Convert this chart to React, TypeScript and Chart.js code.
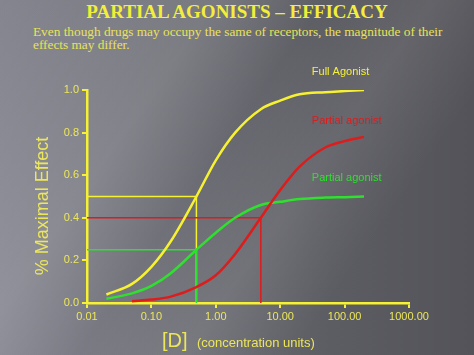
import React, { useEffect, useRef } from "react";
import { Chart, registerables } from "chart.js";
Chart.register(...registerables);

// concentration units [D]
const concentrations = [0.02, 0.05, 0.1, 0.2, 0.5, 1, 2, 5, 10, 20, 50, 100, 200];
const fullAgonist = [0.04, 0.09, 0.17, 0.29, 0.5, 0.67, 0.8, 0.91, 0.95, 0.98, 0.99, 0.995, 1.0];
const partialAgonistRed = [null, 0.008, 0.016, 0.03, 0.075, 0.13, 0.23, 0.4, 0.53, 0.64, 0.73, 0.76, 0.78];
const partialAgonistGreen = [0.02, 0.045, 0.08, 0.14, 0.25, 0.33, 0.4, 0.46, 0.475, 0.488, 0.495, 0.497, 0.5];

// guide lines (x = concentration, y = effect)
const fullGuideX = [0.01, 0.5, 0.5];
const fullGuideY = [0.5, 0.5, 0];
const greenGuideX = [0.01, 0.5, 0.5];
const greenGuideY = [0.25, 0.25, 0];
const redGuideX = [0.01, 5, 5];
const redGuideY = [0.4, 0.4, 0];

const xTickValues = [0.01, 0.1, 1, 10, 100, 1000];
const yTickValues = [0, 0.2, 0.4, 0.6, 0.8, 1.0];

const curveLabels = ["Full Agonist", "Partial agonist", "Partial agonist"];
const curveLabelX = [31, 31, 31];
const curveLabelY = [1.086, 0.855, 0.587];

const YELLOW = "#f6f233";
const RED = "#de1c1c";
const GREEN = "#2fe02f";
const TEXT_YELLOW = "#ece65a";

const toPoints = (xs: number[], ys: (number | null)[]) =>
  xs.map((x, i) => ({ x, y: ys[i] })).filter((p) => p.y !== null);

export default function App() {
  const ref = useRef<HTMLCanvasElement>(null);

  useEffect(() => {
    const canvas = ref.current;
    if (!canvas) return;

    const textPlugin = {
      id: "texts",
      afterDraw(chart: any) {
        const ctx = chart.ctx;
        const xs = chart.scales.x;
        const ys = chart.scales.y;
        ctx.save();
        // curve labels
        ctx.font = "11px 'Liberation Sans', Arial, sans-serif";
        ctx.textBaseline = "middle";
        ctx.textAlign = "left";
        const colors = [YELLOW, RED, GREEN];
        curveLabels.forEach((t, i) => {
          ctx.fillStyle = colors[i];
          ctx.fillText(t, xs.getPixelForValue(curveLabelX[i]), ys.getPixelForValue(curveLabelY[i]));
        });
        // y axis title
        ctx.save();
        ctx.translate(43, 206);
        ctx.rotate(-Math.PI / 2);
        ctx.textAlign = "center";
        ctx.fillStyle = TEXT_YELLOW;
        ctx.font = "18px 'Liberation Sans', Arial, sans-serif";
        ctx.fillText("% Maximal Effect", 0, 0);
        ctx.restore();
        // x axis title
        ctx.textBaseline = "alphabetic";
        ctx.fillStyle = TEXT_YELLOW;
        ctx.font = "20px 'Liberation Sans', Arial, sans-serif";
        ctx.fillText("[D]", 162, 347);
        ctx.font = "13px 'Liberation Sans', Arial, sans-serif";
        ctx.fillText("(concentration units)", 197, 347);
        ctx.restore();
      },
    };

    const chart = new Chart(canvas, {
      type: "line",
      data: {
        datasets: [
          { data: toPoints(concentrations, fullAgonist), borderColor: YELLOW, borderWidth: 2.5, cubicInterpolationMode: "monotone", pointRadius: 0, order: 0 },
          { data: toPoints(concentrations, partialAgonistRed), borderColor: RED, borderWidth: 2.5, cubicInterpolationMode: "monotone", pointRadius: 0, order: 0 },
          { data: toPoints(concentrations, partialAgonistGreen), borderColor: GREEN, borderWidth: 2.5, cubicInterpolationMode: "monotone", pointRadius: 0, order: 0 },
          { data: toPoints(fullGuideX, fullGuideY), borderColor: YELLOW, borderWidth: 1.5, pointRadius: 0, tension: 0, order: 2 },
          { data: toPoints(redGuideX, redGuideY), borderColor: RED, borderWidth: 1.5, pointRadius: 0, tension: 0, order: 1 },
          { data: toPoints(greenGuideX, greenGuideY), borderColor: GREEN, borderWidth: 1.5, pointRadius: 0, tension: 0, order: 1 },
        ] as any,
      },
      options: {
        animation: false,
        responsive: false,
        maintainAspectRatio: false,
        layout: { padding: { left: 47, right: 65, top: 90, bottom: 0 } },
        plugins: { legend: { display: false }, tooltip: { enabled: false }, title: { display: false } },
        scales: {
          x: {
            type: "logarithmic",
            min: 0.01,
            max: 1000,
            afterBuildTicks: (scale: any) => {
              scale.ticks = xTickValues.map((v) => ({ value: v }));
            },
            afterFit: (scale: any) => {
              scale.height = 52;
            },
            ticks: {
              color: TEXT_YELLOW,
              font: { size: 11, family: "'Liberation Sans', Arial, sans-serif" },
              padding: 2,
              autoSkip: false,
              maxRotation: 0,
              callback: (v: any) => Number(v).toFixed(2),
            },
            grid: { display: true, drawOnChartArea: false, drawTicks: true, tickLength: 5, color: YELLOW, lineWidth: 2 },
            border: { display: true, color: YELLOW, width: 2.5 },
          },
          y: {
            type: "linear",
            min: 0,
            max: 1,
            afterBuildTicks: (scale: any) => {
              scale.ticks = yTickValues.map((v) => ({ value: v }));
            },
            afterFit: (scale: any) => {
              scale.width = 40;
            },
            ticks: {
              color: TEXT_YELLOW,
              font: { size: 11, family: "'Liberation Sans', Arial, sans-serif" },
              padding: 3,
              callback: (v: any) => Number(v).toFixed(1),
            },
            grid: { display: true, drawOnChartArea: false, drawTicks: true, tickLength: 5, color: YELLOW, lineWidth: 2 },
            border: { display: true, color: YELLOW, width: 2.5 },
          },
        },
      } as any,
      plugins: [textPlugin],
    });
    return () => chart.destroy();
  }, []);

  return (
    <div
      style={{
        position: "absolute",
        left: 0,
        top: 0,
        width: 474,
        height: 355,
        overflow: "hidden",
        background:
          "linear-gradient(125deg, rgba(255,255,255,0.0) 0%, rgba(255,255,255,0.10) 30%, rgba(255,255,255,0.0) 45%, rgba(255,255,255,0.08) 60%, rgba(255,255,255,0) 75%), linear-gradient(to right, #858590 0%, #707078 35%, #5c5c63 70%, #535359 100%)",
      }}
    >
      <div
        style={{
          position: "absolute",
          left: 0,
          top: 1,
          width: 474,
          textAlign: "center",
          fontFamily: "'Liberation Serif', 'DejaVu Serif', serif",
          fontWeight: "bold",
          fontSize: 19,
          color: "#f2ee3a",
          whiteSpace: "nowrap",
        }}
      >
        PARTIAL AGONISTS – EFFICACY
      </div>
      <div
        style={{
          position: "absolute",
          left: 33,
          top: 25,
          width: 425,
          fontFamily: "'Liberation Serif', 'DejaVu Serif', serif",
          fontSize: 13.3,
          lineHeight: "13px",
          color: "#e8e25a",
        }}
      >
        Even though drugs may occupy the same of receptors, the magnitude of their effects may differ.
      </div>
      <canvas ref={ref} width={474} height={355} style={{ position: "absolute", left: 0, top: 0 }} />
    </div>
  );
}
